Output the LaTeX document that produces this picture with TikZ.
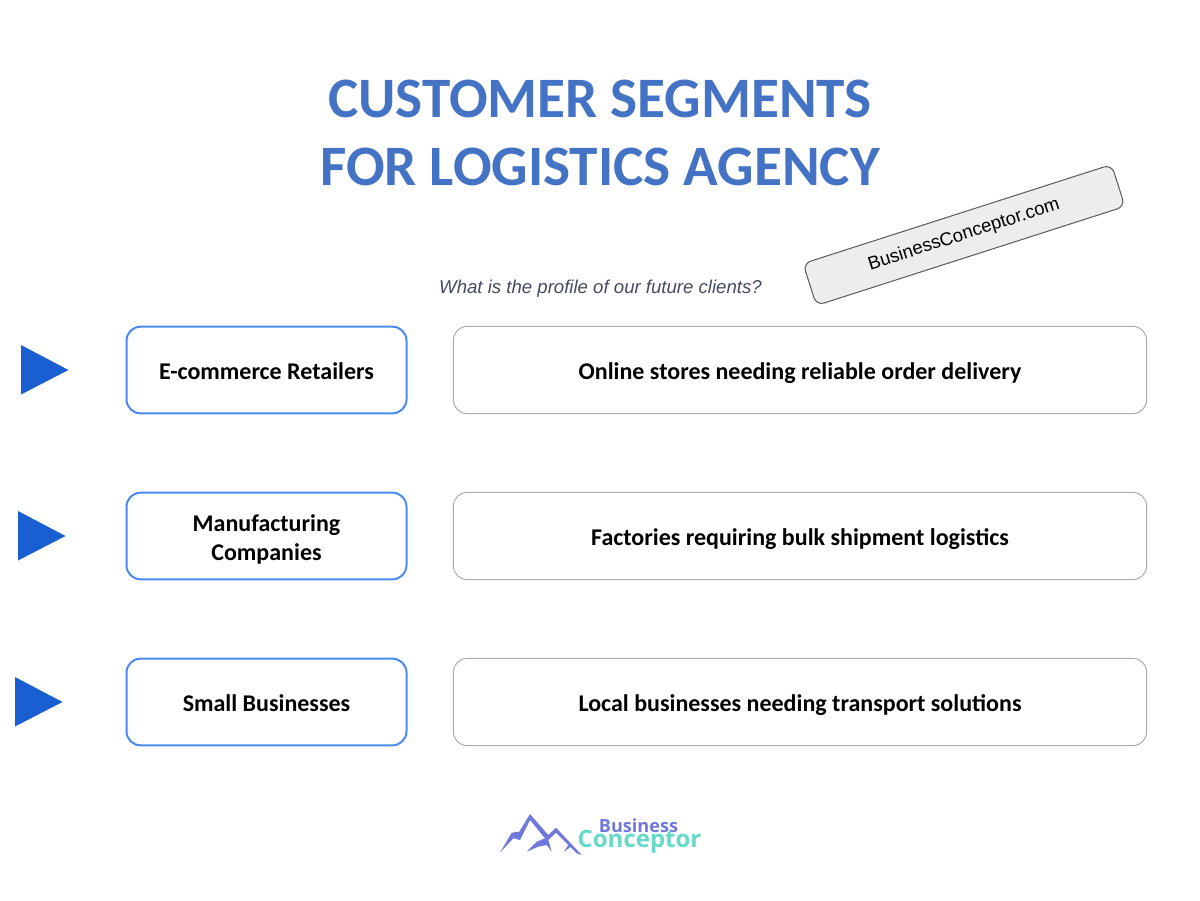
\documentclass[tikz,border=0pt]{standalone}
\usepackage{fontspec}
\setmainfont{Carlito}
\newfontfamily\tagfont{Liberation Sans}
\newfontfamily\logofont{Open Sans}
\definecolor{titleblue}{HTML}{4472C4}
\definecolor{markerblue}{HTML}{1A5FD1}
\definecolor{segblue}{HTML}{4A89F0}
\definecolor{descgray}{HTML}{ABABAB}
\definecolor{subgray}{HTML}{434C5E}
\definecolor{logopurple}{HTML}{7078DC}
\definecolor{logoteal}{HTML}{66D9C8}
\begin{document}
\begin{tikzpicture}[
	x=0.75pt,
	y=-0.75pt,
	segment/.style={
		rectangle,
		draw=segblue,
		line width=1.5pt,
		align=center,
		rounded corners=10.5pt,
		execute at begin node={\rule{0pt}{14.5pt}},
		font=\fontsize{18}{22}\selectfont\bfseries,
		minimum height=65pt,
		minimum width=210pt
	},
	desc/.style={
		rectangle,
		draw=descgray,
		line width=0.75pt,
		align=center,
		rounded corners=10.5pt,
		text height=17pt,
		text depth=3pt,
		font=\fontsize{18}{22}\selectfont\bfseries,
		minimum height=65.5pt,
		minimum width=520pt
	},
	marker/.style={
		fill=markerblue
	},
	title/.style={
		text=titleblue,
		font=\fontsize{42.9}{51}\selectfont\bfseries,
		align=center
	},
]

\useasboundingbox (0,0) rectangle (1200,900);

% Title
\node[title] (head) at (600,133) {CUSTOMER SEGMENTS\\FOR LOGISTICS AGENCY};
\node[text=subgray, font=\tagfont\fontsize{13.95}{17}\selectfont\itshape] (sub) at (600.5,289) {What is the profile of our future clients?};

% Tag
\node[rectangle, rotate=17.8, draw=black!65, fill=black!7, line width=0.75pt, rounded corners=6pt,
minimum height=33pt, minimum width=243pt, font=\tagfont\fontsize{13.9}{18}\selectfont] (tag) at (964,235) {BusinessConceptor.com};

% Rows
\foreach \y/\m/\name/\text in {
	370/21/E-commerce Retailers/Online stores needing reliable order delivery,
	536/18/\rule{0pt}{18pt}Manufacturing\\Companies/Factories requiring bulk shipment logistics,
	702/15/Small Businesses/Local businesses needing transport solutions}
{
	\fill[marker] (\m,\y-25) -- (\m+47.5,\y) -- (\m,\y+24.5) -- cycle;
	\node[segment] (seg\y) at (266.5,\y) {\name};
	\node[desc] (desc\y) at (800,\y) {\text};
}

% Logo
\fill[logopurple] (500,852.7) -- (511.7,832.7) -- (519.3,831.7) -- (530,814) -- (548.3,835) -- (556,827.7) -- (581.7,855) -- (576.7,853.3) -- (556,832.7) -- (548.3,840) -- (551.7,851.7) -- (546.7,845) -- (538.3,846.7) -- (526.7,851.7) -- (536.7,841.7) -- (545,838.3) -- (530,820) -- (520,840) -- (513.3,838.3) -- cycle;
\fill[logopurple] (564,851.7) -- (569.3,843.3) -- (570.7,846.7) -- cycle;
\node[anchor=base, text=logopurple, font=\logofont\fontsize{13.6}{15}\selectfont\bfseries] (bus) at (638.5,832) {Business};
\node[anchor=base, text=logoteal, font=\logofont\fontsize{18}{20}\selectfont\bfseries] (con) at (639.5,847) {Conceptor};

\end{tikzpicture}
\end{document}
